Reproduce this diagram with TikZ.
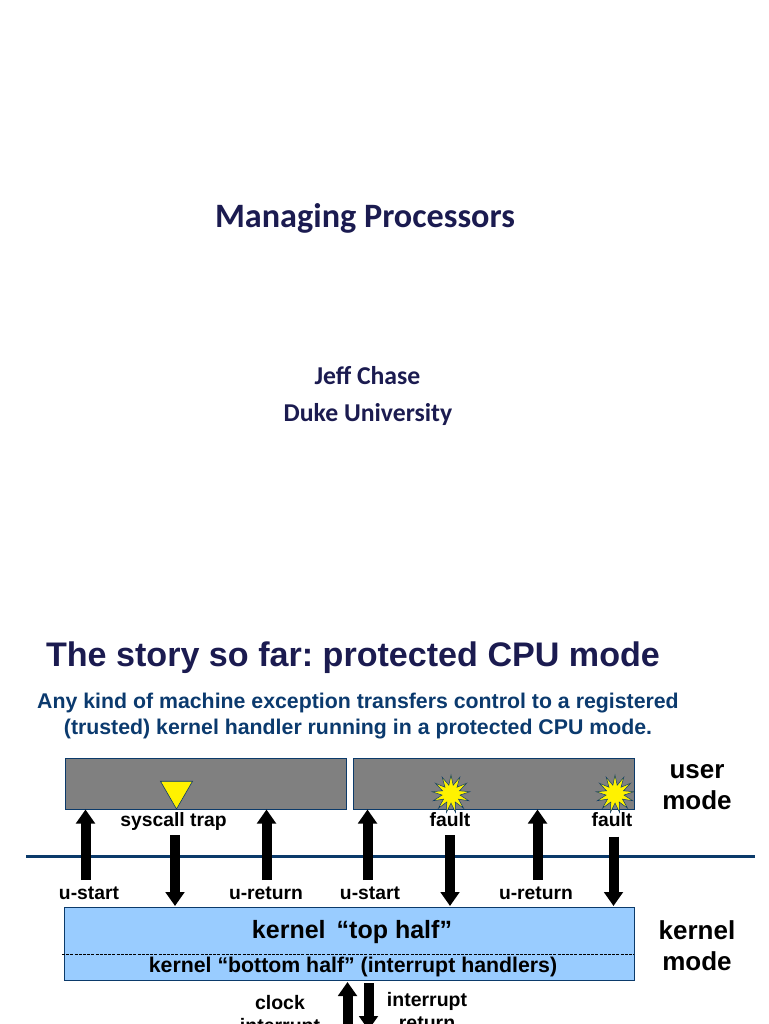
\documentclass[tikz,border=0pt]{standalone}
\usepackage{fontspec}
\setmainfont{Liberation Sans}
\newfontfamily\calib{Carlito}
\usetikzlibrary{shapes.geometric,arrows.meta}
\definecolor{navyt}{HTML}{1B1B50}
\definecolor{bluet}{HTML}{0B3A6E}
\definecolor{lineb}{HTML}{0B3A6A}
\definecolor{kern}{HTML}{99CCFF}
\definecolor{usr}{HTML}{808080}
\tikzset{x=1pt,y=-1pt,
 box/.style={draw=lineb,line width=1pt,inner sep=0pt,outer sep=0pt,anchor=north west},
 lab/.style={font=\bfseries\fontsize{19.3}{19.3}\selectfont,text=black,inner sep=0pt,align=center},
 big/.style={font=\bfseries\fontsize{26}{31}\selectfont,text=black,inner sep=0pt,align=center},
 fat/.style={line width=10pt,-{Triangle[length=14pt,width=18.5pt]},black,shorten >=0pt},
 boom/.style={star,star points=13,star point ratio=2.1,fill=yellow,draw=lineb,line width=.5pt,minimum size=38pt,inner sep=0pt},
 head/.style={font=\calib\bfseries\fontsize{34.2}{34.2}\selectfont,text=navyt,inner sep=0pt},
 sub/.style={font=\calib\bfseries\fontsize{25.7}{25.7}\selectfont,text=navyt,inner sep=0pt}}
\begin{document}
\frenchspacing
\begin{tikzpicture}
\useasboundingbox (0,0) rectangle (768,1024);
\clip (0,0) rectangle (768,1024);
\node[head] (t1) at (365,218) {Managing Processors};
\node[sub] (t2) at (367.5,375.5) {Jeff Chase};
\node[sub] (t3) at (368,415) {Duke University};
\node[font=\bfseries\fontsize{34.1}{34.1}\selectfont,text=navyt,inner sep=0pt] (t4) at (353,657.5) {The story so far: protected CPU mode};
\node[font=\bfseries\fontsize{21.3}{25.5}\selectfont,text=bluet,inner sep=0pt,align=center] (t5) at (358,716) {Any kind of machine exception transfers control to a registered\\(trusted) kernel handler running in a protected CPU mode.};
% mode line
\coordinate (ml) at (26,856.5); \coordinate (mr) at (755,856.5);
\draw[lineb,line width=3pt] (ml) -- (mr);
% user boxes
\node[box,fill=usr,minimum width=281pt,minimum height=51pt] (u1) at (65,758.5) {};
\node[box,fill=usr,minimum width=281pt,minimum height=51pt] (u2) at (353,758.5) {};
% kernel box
\node[box,fill=kern,minimum width=570pt,minimum height=73pt] (k) at (64,907) {};
\coordinate (dl) at (62,954.5); \coordinate (dr) at (634,954.5);
\draw[black,line width=.6pt,dash pattern=on 3pt off 1.2pt] (dl) -- (dr);
\node[font=\bfseries\fontsize{25}{25}\selectfont,inner sep=0pt] (kt) at (352,932) {kernel \,“top half”};
\node[font=\bfseries\fontsize{21.3}{21.3}\selectfont,inner sep=0pt] (kb) at (353,967) {kernel “bottom half” (interrupt handlers)};
% markers
\node[regular polygon,regular polygon sides=3,shape border rotate=180,fill=yellow,draw=lineb,line width=.6pt,minimum size=37pt,inner sep=0pt] (tri) at (176.5,790.5) {};
\node[boom] (s1) at (451,794) {};
\node[boom] (s2) at (615,794) {};
% labels
\node[lab] (l1) at (173.5,821) {syscall trap};
\node[lab] (l2) at (450,820) {fault};
\node[lab] (l3) at (612,820) {fault};
\node[lab] (l4) at (89,893.5) {u-start};
\node[lab] (l5) at (266,893.5) {u-return};
\node[lab] (l6) at (370,893.5) {u-start};
\node[lab] (l7) at (536,893.5) {u-return};
\node[big] (um) at (697,787.5) {user\\mode};
\node[big] (km) at (697,946) {kernel\\mode};
\node[lab,font=\bfseries\fontsize{19.5}{23}\selectfont,anchor=north] (ci) at (280,995) {clock\\interrupt};
\node[lab,font=\bfseries\fontsize{19.5}{23}\selectfont,anchor=north] (ir) at (427,992) {interrupt\\return};
% arrows
\coordinate (a1) at (85.5,880); \coordinate (a1e) at (85.5,809.5);
\coordinate (a2) at (266.5,880); \coordinate (a2e) at (266.5,809.5);
\coordinate (a3) at (367.5,880); \coordinate (a3e) at (367.5,809.5);
\coordinate (a4) at (537.5,880); \coordinate (a4e) at (537.5,809.5);
\coordinate (b1) at (175,835); \coordinate (b1e) at (175,906);
\coordinate (b2) at (450,835); \coordinate (b2e) at (450,906);
\coordinate (b3) at (613.5,836.5); \coordinate (b3e) at (613.5,906);
\coordinate (c1) at (347.5,1030); \coordinate (c1e) at (347.5,982);
\coordinate (c2) at (368.5,983); \coordinate (c2e) at (368.5,1030);
\foreach \p/\q in {a1/a1e,a2/a2e,a3/a3e,a4/a4e,b1/b1e,b2/b2e,b3/b3e,c1/c1e,c2/c2e}
  \draw[fat] (\p) -- (\q);
\end{tikzpicture}
\end{document}
